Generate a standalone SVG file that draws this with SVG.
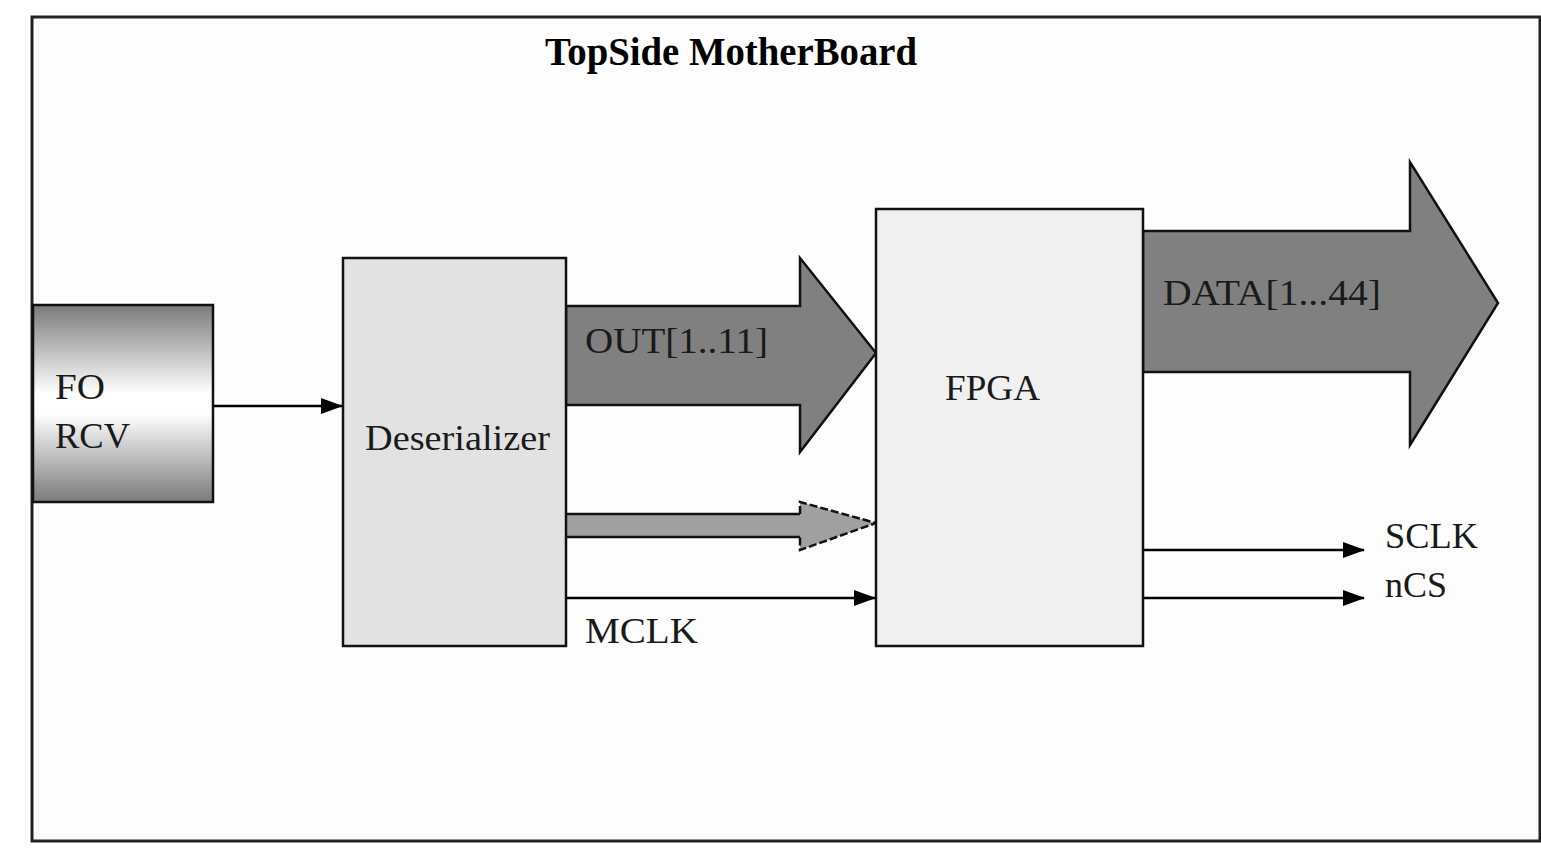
<svg xmlns="http://www.w3.org/2000/svg" width="1541" height="866" viewBox="0 0 1541 866">
<defs>
<linearGradient id="foGrad" x1="0" y1="0" x2="0" y2="1">
<stop offset="0" stop-color="#7a7a7a"/>
<stop offset="0.45" stop-color="#ffffff"/>
<stop offset="0.55" stop-color="#ffffff"/>
<stop offset="1" stop-color="#7a7a7a"/>
</linearGradient>
<marker id="ahb" markerWidth="22" markerHeight="16" refX="21" refY="8" orient="auto" markerUnits="userSpaceOnUse" viewBox="0 0 22 16">
<path d="M0,0 L22,8 L0,16 z" fill="#000"/>
</marker>
</defs>
<style>
.lbl{font-family:"Liberation Serif","Times New Roman",serif;font-size:36px;fill:#1a1a1a}
.title{font-family:"Liberation Serif","Times New Roman",serif;font-size:40px;font-weight:bold;fill:#000}
.box{stroke:#111;stroke-width:2.5}
.wire{stroke:#000;stroke-width:2.5;fill:none}
.bigarrow{fill:#808080;stroke:#111;stroke-width:2.5;stroke-linejoin:miter}
</style>
<rect width="1541" height="866" fill="#ffffff"/>
<g id="frame">
<rect x="32" y="17" width="1508" height="824" fill="#fdfdfd" stroke="#222" stroke-width="3"/>
<text class="title" x="545" y="65" textLength="372" lengthAdjust="spacingAndGlyphs">TopSide MotherBoard</text>
</g>
<g id="connectors">
<line class="wire" x1="213" y1="406" x2="342" y2="406" marker-end="url(#ahb)"/>
<path id="out-arrow" class="bigarrow" d="M566,306 L800,306 L800,258 L876,353 L800,452 L800,405 L566,405 Z"/>
<path id="mid-arrow" d="M566,514 L800,514 L800,502 L876,523 L800,550 L800,537 L566,537 Z" fill="#a0a0a0" stroke="none"/>
<path d="M566,514 L800,514 M566,537 L800,537" stroke="#111" stroke-width="2.5" fill="none"/>
<path d="M800,514 L800,502 L876,523 L800,550 L800,537" stroke="#111" stroke-width="2.5" stroke-dasharray="8,3" fill="none"/>
<line class="wire" x1="566" y1="598" x2="875" y2="598" marker-end="url(#ahb)"/>
<path id="data-arrow" class="bigarrow" d="M1143,231 L1410,231 L1410,162 L1498,303 L1410,445 L1410,372 L1143,372 Z"/>
<line class="wire" x1="1143" y1="550" x2="1364" y2="550" marker-end="url(#ahb)"/>
<line class="wire" x1="1143" y1="598" x2="1364" y2="598" marker-end="url(#ahb)"/>
<text class="lbl" x="585" y="353" textLength="183" lengthAdjust="spacingAndGlyphs">OUT[1..11]</text>
<text class="lbl" x="1163" y="305" textLength="218" lengthAdjust="spacingAndGlyphs">DATA[1...44]</text>
<text class="lbl" x="585" y="643" textLength="113" lengthAdjust="spacingAndGlyphs">MCLK</text>
<text class="lbl" x="1385" y="548" textLength="93" lengthAdjust="spacingAndGlyphs">SCLK</text>
<text class="lbl" x="1385" y="597" textLength="62" lengthAdjust="spacingAndGlyphs">nCS</text>
</g>
<g id="fo-rcv">
<rect class="box" x="33" y="305" width="180" height="197" fill="url(#foGrad)"/>
<text class="lbl" x="55" y="399" textLength="50" lengthAdjust="spacingAndGlyphs">FO</text>
<text class="lbl" x="55" y="448" textLength="75" lengthAdjust="spacingAndGlyphs">RCV</text>
</g>
<g id="deserializer">
<rect class="box" x="343" y="258" width="223" height="388" fill="#e2e2e2"/>
<text class="lbl" x="365" y="450" textLength="185" lengthAdjust="spacingAndGlyphs">Deserializer</text>
</g>
<g id="fpga">
<rect class="box" x="876" y="209" width="267" height="437" fill="#f0f0f0"/>
<text class="lbl" x="945" y="400" textLength="95" lengthAdjust="spacingAndGlyphs">FPGA</text>
</g>
</svg>
